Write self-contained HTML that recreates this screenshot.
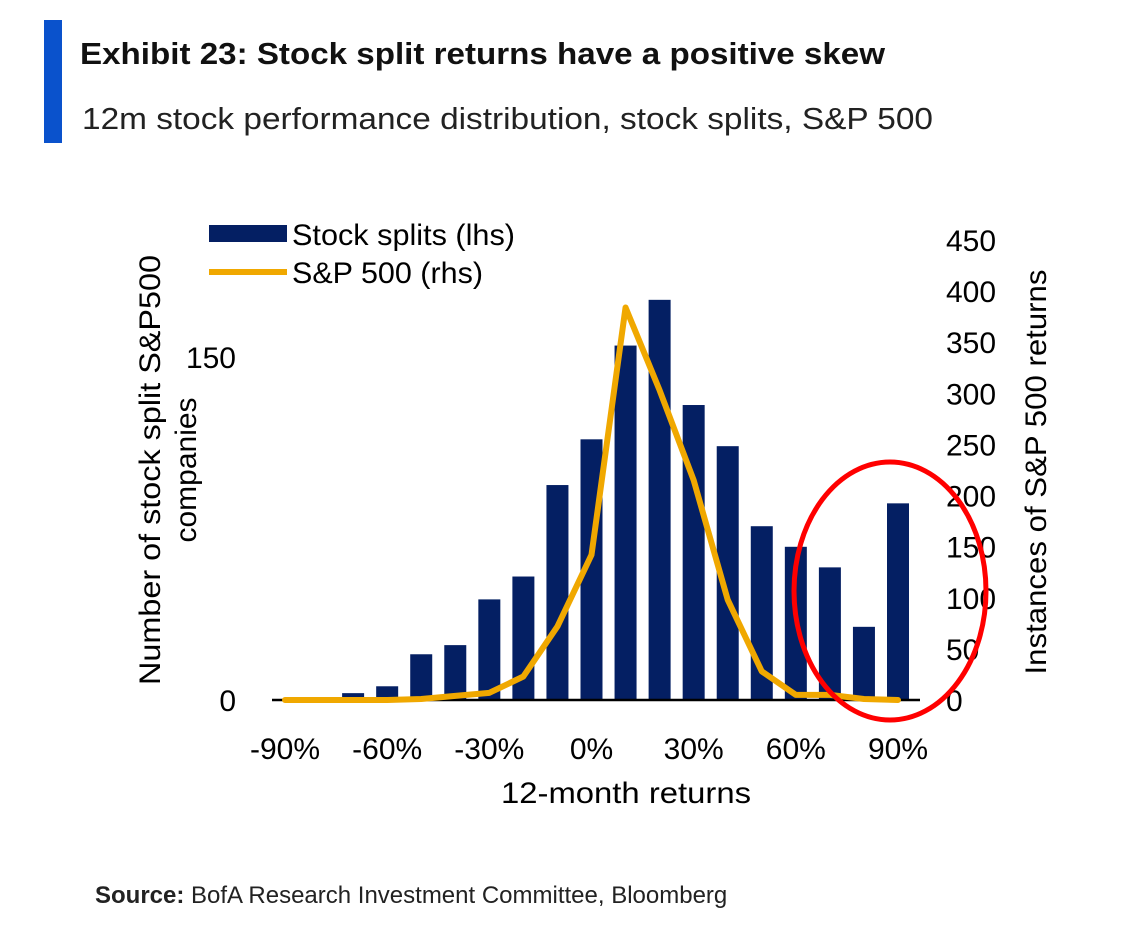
<!DOCTYPE html>
<html><head><meta charset="utf-8"><style>
body{margin:0;background:#fff;width:1128px;height:928px;overflow:hidden;font-family:"Liberation Sans",sans-serif}
</style></head><body>
<svg width="1128" height="928" xmlns="http://www.w3.org/2000/svg" font-family="Liberation Sans, sans-serif">
<rect x="44" y="20" width="18" height="123" fill="#0a52cc"/>
<text x="80" y="64" font-size="31" font-weight="bold" fill="#111" textLength="805" lengthAdjust="spacingAndGlyphs">Exhibit 23: Stock split returns have a positive skew</text>
<text x="82" y="129" font-size="31" fill="#222" textLength="851" lengthAdjust="spacingAndGlyphs">12m stock performance distribution, stock splits, S&amp;P 500</text>
<g id="plot"></g>
<rect x="209" y="225" width="78" height="17" fill="#041f63"/>
<text x="292" y="245" font-size="30" textLength="223" lengthAdjust="spacingAndGlyphs">Stock splits (lhs)</text>
<line x1="209" y1="272" x2="287" y2="272" stroke="#f0a800" stroke-width="6"/>
<text x="292" y="283" font-size="30" textLength="191" lengthAdjust="spacingAndGlyphs">S&amp;P 500 (rhs)</text>
<g transform="translate(160,470) rotate(-90)">
<text x="0" y="0" font-size="30" text-anchor="middle" textLength="430" lengthAdjust="spacingAndGlyphs">Number of stock split S&amp;P500</text>
<text x="0" y="36" font-size="30" text-anchor="middle">companies</text>
</g>
<text transform="translate(1046,472) rotate(-90)" font-size="30" text-anchor="middle" textLength="405" lengthAdjust="spacingAndGlyphs">Instances of S&amp;P 500 returns</text>
<text x="626" y="803" font-size="30" text-anchor="middle" textLength="250" lengthAdjust="spacingAndGlyphs">12-month returns</text>
<ellipse cx="890" cy="591" rx="96" ry="129" fill="none" stroke="#f00" stroke-width="5"/>
<text x="95" y="903" font-size="24" fill="#222"><tspan font-weight="bold">Source:</tspan> BofA Research Investment Committee, Bloomberg</text>
</svg>
<script>
const categories=[-90,-80,-70,-60,-50,-40,-30,-20,-10,0,10,20,30,40,50,60,70,80,90];
const splitCounts=[0,0,3,6,20,24,44,54,94,114,155,175,129,111,76,67,58,32,86];
const spInstances=[0,0,0,0,1,4,7,23,72,142,384,303,215,98,28,5,5,1,0];
const xTickLabels=["-90%","-60%","-30%","0%","30%","60%","90%"];
const xTickValues=[-90,-60,-30,0,30,60,90];
const leftTicks=[0,150];
const rightTicks=[0,50,100,150,200,250,300,350,400,450];
const NS="http://www.w3.org/2000/svg";
const g=document.getElementById('plot');
const X=v=>285+(v+90)*(613/180);
const YL=v=>700-v*(343/150);
const YR=v=>700-v*(460/450);
function mk(t,a){const e=document.createElementNS(NS,t);for(const k in a)e.setAttribute(k,a[k]);g.appendChild(e);return e;}
categories.forEach((c,i)=>{const v=splitCounts[i];if(v<=0)return;
const r=mk('rect',{x:X(c)-11,y:YL(v),width:22,height:700-YL(v),fill:'#041f63'});

});
const ax=mk('line',{x1:272,y1:700,x2:920,y2:700,stroke:'#000','stroke-width':2.5});


const pl=mk('polyline',{points:categories.map((c,i)=>X(c)+','+YR(spInstances[i])).join(' '),fill:'none',stroke:'#f0a800','stroke-width':6,'stroke-linejoin':'round','stroke-linecap':'round'});


xTickValues.forEach((v,i)=>{const t=mk('text',{x:X(v),y:759,'font-size':30,'text-anchor':'middle'});t.textContent=xTickLabels[i];

});
leftTicks.forEach(v=>{const t=mk('text',{x:236,y:YL(v)+11,'font-size':30,'text-anchor':'end'});t.textContent=v;

});
rightTicks.forEach(v=>{const t=mk('text',{x:946,y:YR(v)+11,'font-size':30});t.textContent=v;

});
</script>
</body></html>
